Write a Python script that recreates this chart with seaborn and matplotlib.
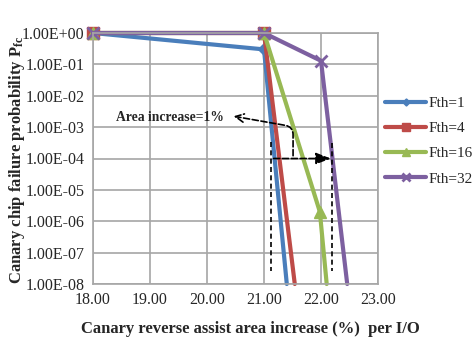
import numpy as np
import pandas as pd
import matplotlib
matplotlib.use('Agg')
import matplotlib.pyplot as plt
from matplotlib.ticker import FuncFormatter, FixedLocator
import seaborn as sns

# data (last point of each curve = where it leaves the axis)
x_fth1 = [18.0, 21.0, 21.40]
y_fth1 = [1.0, 0.3, 1e-8]
x_fth4 = [18.0, 21.0, 21.54]
y_fth4 = [1.0, 1.0, 1e-8]
x_fth16 = [18.0, 21.0, 21.98, 22.10]
y_fth16 = [1.0, 1.0, 2e-6, 1e-8]
x_fth32 = [18.0, 21.0, 22.0, 22.46]
y_fth32 = [1.0, 1.0, 0.13, 1e-8]
labels = ['Fth=1', 'Fth=4', 'Fth=16', 'Fth=32']
x_ticks = [18, 19, 20, 21, 22, 23]
y_ticks = [1e0, 1e-1, 1e-2, 1e-3, 1e-4, 1e-5, 1e-6, 1e-7, 1e-8]

sns.set_style('white')
plt.rcParams['font.family'] = ['Liberation Serif', 'DejaVu Serif']
plt.rcParams['mathtext.fontset'] = 'custom'
plt.rcParams['mathtext.rm'] = 'Liberation Serif:bold'
plt.rcParams['mathtext.bf'] = 'Liberation Serif:bold'
plt.rcParams['mathtext.it'] = 'Liberation Serif:bold'

fig = plt.figure(figsize=(4.74, 3.57), dpi=100)
ax = fig.add_axes([93/474, 1-284/357, 285/474, 251/357])

series = [
    (x_fth1, y_fth1, '#4A7EBB', 'D', 6, 1),
    (x_fth4, y_fth4, '#BE4B48', 's', 9, 1),
    (x_fth16, y_fth16, '#98B954', '^', 9, 1),
    (x_fth32, y_fth32, '#7D60A0', 'x', 9, 2),
]
for (xs, ys, col, mk, ms, mew), lab in zip(series, labels):
    sns.lineplot(x=xs, y=ys, color=col, marker=mk, markersize=ms,
                 markeredgecolor=col, markeredgewidth=mew, markerfacecolor=col,
                 linewidth=3, markevery=list(range(len(xs) - 1)),
                 clip_on=False, label=lab, ax=ax)

ax.set_yscale('log')
ax.set_xlim(18, 23)
ax.set_ylim(1e-8, 1)
ax.xaxis.set_major_locator(FixedLocator(x_ticks))
ax.yaxis.set_major_locator(FixedLocator(y_ticks))
ax.yaxis.set_minor_locator(FixedLocator([]))
ax.xaxis.set_major_formatter(FuncFormatter(lambda v, p: f'{v:.2f}'))
ax.yaxis.set_major_formatter(FuncFormatter(lambda v, p: f'{v:.2E}'))
ax.tick_params(length=0, labelsize=11.5, pad=6)
ax.grid(True, color='#a6a6a6', lw=1.2)
ax.set_axisbelow(True)
for s in ax.spines.values():
    s.set_color('#a6a6a6')
    s.set_linewidth(1.2)

# annotation
dash = (0, (3, 2))
ax.plot([21.12, 21.12], [3.4e-4, 2.6e-8], color='black', ls=dash, lw=1.2)
ax.plot([22.19, 22.19], [3.2e-4, 2.6e-8], color='black', ls=dash, lw=1.2)
ax.annotate('', xy=(22.22, 1e-4), xytext=(21.12, 1e-4),
            arrowprops=dict(arrowstyle='-|>,head_length=0.9,head_width=0.35',
                            color='black', lw=1.2, ls='--'))
ax.annotate('', xy=(20.42, 2.3e-3), xytext=(21.51, 1e-4),
            arrowprops=dict(arrowstyle='->,head_length=0.6,head_width=0.3',
                            color='black', lw=1.2, ls='--',
                            connectionstyle='angle,angleA=90,angleB=-10,rad=8'))
ax.text(19.35, 2.1e-3, 'Area increase=1%', fontsize=9.8, fontweight='bold',
        ha='center', va='center')

ax.set_xlabel('')
ax.set_ylabel('')
fig.text(250/474, 1-329/357, 'Canary reverse assist area increase (%)  per I/O',
         fontsize=12, fontweight='bold', ha='center', va='center')
fig.text(17/474, 1-160/357, 'Canary chip failure probability P$_{fc}$',
         fontsize=12, fontweight='bold', ha='center', va='center', rotation=90)

ax.legend(loc='center left', bbox_to_anchor=(385/474, 1-141/357),
          bbox_transform=fig.transFigure, frameon=False, fontsize=11,
          handlelength=2.7, labelspacing=0.75, handletextpad=0.15,
          borderaxespad=0, borderpad=0, markerscale=0.6)

fig.savefig('out.png', dpi=100)
